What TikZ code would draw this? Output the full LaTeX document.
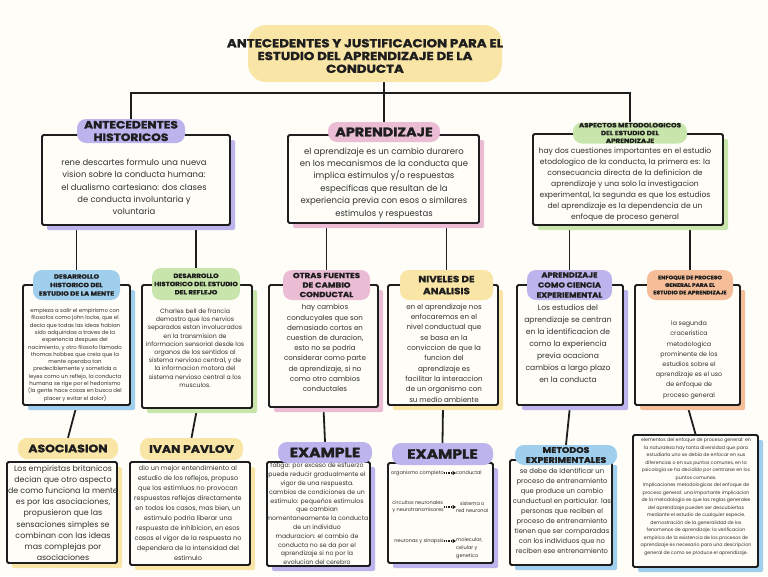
\documentclass[tikz,border=0pt]{standalone}
\usepackage{fontspec}
\setmainfont{Poppins}
\newfontfamily\headfont{Poppins}[BoldFeatures={FakeBold=1.6, FakeStretch=1.15}]
\usetikzlibrary{shadows,backgrounds,arrows.meta}
\definecolor{bg}{HTML}{FEFDF8}
\definecolor{ink}{HTML}{1E1E1E}
\definecolor{yel}{HTML}{F9E5A5}
\definecolor{purp}{HTML}{BDB4EE}
\definecolor{pink}{HTML}{EBBDD4}
\definecolor{grn}{HTML}{C8E6AC}
\definecolor{blu}{HTML}{A0CFEE}
\definecolor{orng}{HTML}{F5BE98}
\newcommand\fs[2]{\fontsize{#1}{#2}\selectfont}
\begin{document}
\begin{tikzpicture}[x=1pt,y=-1pt,
  box/.style={draw=ink, line width=1.8pt, fill=bg, rounded corners=1.5pt, inner sep=0pt,
    drop shadow={shadow xshift=5pt, shadow yshift=-5pt, fill=#1, opacity=1}},
  lab/.style={fill=#1, rounded corners=9pt, inner sep=0pt, align=center, text=ink},
  txt/.style={align=center, inner sep=0pt, text=ink!92},
  conn/.style={draw=ink, line width=1.8pt},
  dotarr/.style={draw=ink, line width=1.2pt, dash pattern=on 1.2pt off 1pt, -{Triangle[length=3.5pt,width=4pt]}}
]
\useasboundingbox (0,0) rectangle (768,576);

% title
\node[fill=yel, rounded corners=18pt, minimum width=254pt, minimum height=57pt] (tblob) at (375,53.5) {};
\node[txt, text=ink, font=\headfont\bfseries\fs{11.6}{12.8}] (title) at (365,56) {ANTECEDENTES Y JUSTIFICACION PARA EL\\ESTUDIO DEL APRENDIZAJE DE LA\\CONDUCTA};

% top boxes
\node[box=purp, minimum width=188pt, minimum height=90pt] (b1) at (136,180) {};
\node[box=pink, minimum width=191pt, minimum height=88pt] (b2) at (383.5,179) {};
\node[box=grn, minimum width=190pt, minimum height=91pt] (b3) at (628,179.5) {};

\node[lab=purp, minimum width=108pt, minimum height=24pt, font=\headfont\bfseries\fs{10.6}{12.5}] (l1) at (131,131) {ANTECEDENTES\\HISTORICOS};
\node[lab=pink, minimum width=112pt, minimum height=20pt, font=\headfont\bfseries\fs{12.5}{13}] (l2) at (384,132) {APRENDIZAJE};
\node[lab=grn, minimum width=114pt, minimum height=21pt, font=\headfont\bfseries\fs{6.2}{7.8}] (l3) at (630,133) {ASPECTOS METODOLOGICOS\\DEL ESTUDIO DEL\\APRENDIZAJE};

\node[txt, font=\fs{8.4}{12.2}] (t1) at (134,187) {rene descartes formulo una nueva\\vision sobre la conducta humana:\\el dualismo cartesiano: dos clases\\de conducta involuntaria y\\voluntaria};
\node[txt, font=\fs{8.5}{12.4}] (t2) at (384,183) {el aprendizaje es un cambio durarero\\en los mecanismos de la conducta que\\implica estimulos y/o respuestas\\especificas que resultan de la\\experiencia previa con esos o similares\\estimulos y respuestas};
\node[txt, font=\fs{7.6}{11}] (t3) at (625,185) {hay dos cuestiones importantes en el estudio\\etodologico de la conducta, la primera es: la\\consecuancia directa de la definicion de\\aprendizaje y una solo la investigacion\\experimental, la segunda es que los estudios\\del aprendizaje es la dependencia de un\\enfoque de proceso general};

% middle boxes
\node[box=blu, minimum width=107pt, minimum height=120pt] (m1) at (76.5,345) {};
\node[box=grn, minimum width=110pt, minimum height=123pt] (m2) at (197,346.5) {};
\node[box=pink, minimum width=109pt, minimum height=122pt] (m3) at (323.5,346) {};
\node[box=yel, minimum width=110pt, minimum height=120pt] (m4) at (443,345) {};
\node[box=purp, minimum width=106pt, minimum height=120pt] (m5) at (570,345) {};
\node[box=orng, minimum width=105pt, minimum height=120pt] (m6) at (687.5,345) {};

\node[lab=blu, minimum width=87pt, minimum height=30pt, font=\headfont\bfseries\fs{6.1}{8.5}] (m1l) at (76.5,285) {DESARROLLO\\HISTORICO DEL\\ESTUDIO DE LA MENTE};
\node[lab=grn, minimum width=88pt, minimum height=32pt, font=\headfont\bfseries\fs{6.1}{8.2}] (m2l) at (196,284) {DESARROLLO\\HISTORICO DEL ESTUDIO\\DEL REFLEJO};
\node[lab=pink, minimum width=87pt, minimum height=30pt, font=\headfont\bfseries\fs{7.4}{9.5}] (m3l) at (326.5,285) {OTRAS FUENTES\\DE CAMBIO\\CONDUCTAL};
\node[lab=yel, minimum width=93pt, minimum height=30pt, font=\headfont\bfseries\fs{9}{12}] (m4l) at (446.5,285) {NIVELES DE\\ANALISIS};
\node[lab=purp, minimum width=85pt, minimum height=30pt, font=\headfont\bfseries\fs{7.2}{10}] (m5l) at (569.5,285) {APRENDIZAJE\\COMO CIENCIA\\EXPERIEMENTAL};
\node[lab=orng, minimum width=86pt, minimum height=30pt, font=\headfont\bfseries\fs{5}{7.5}] (m6l) at (690,285) {ENFOQUE DE PROCESO\\GENERAL PARA EL\\ESTUDIO DE APRENDIZAJE};

\node[txt, font=\fs{5.4}{7.3}] (mt1) at (75,355) {empieza a salir el empirismo con\\filosofos como john locke, que el\\decia que todas las ideas habian\\sido adquiridas a traves de la\\experiencia despues del\\nacimiento, y otro filosofo llamado\\thomas hobbes que creia que la\\mente operaba tan\\predeciblemente y sometida a\\leyes como un reflejo, la conducta\\humana se rige por el hedonismo\\(la gente hace cosas en busca del\\placer y evitar el dolor)};
\node[txt, font=\fs{6.2}{8.2}] (mt2) at (195,348) {Charles bell de francia\\demostro que los nervios\\separados estan involucrados\\en la transmision de\\informacion sensorial desde los\\organos de los sentidos al\\sistema nervioso central, y de\\la informacion motora del\\sistema nervioso central a los\\musculos.};
\node[txt, font=\fs{7.1}{10.2}] (mt3) at (325,348) {hay cambios\\conducyales que son\\demasiado cortos en\\cuestion de duracion,\\esto no se podria\\considerar como parte\\de aprendizaje, si no\\como otro cambios\\conductales};
\node[txt, font=\fs{7.1}{10.3}] (mt4) at (444,353) {en el aprendizaje nos\\enfocaremos en el\\nivel conductual que\\se basa en la\\conviccion de que la\\funcion del\\aprendizaje es\\facilitar la interaccion\\de un organismo con\\su medio ambiente};
\node[txt, font=\fs{7.6}{12}] (mt5) at (568,344) {Los estudios del\\aprendizaje se centran\\en la identificacion de\\como la experiencia\\previa ocaciona\\cambios a largo plazo\\en la conducta};
\node[txt, font=\fs{6.3}{10.2}] (mt6) at (689,360) {la segunda\\craceristica\\metodologica\\prominente de los\\estudios sobre el\\aprendizaje es el uso\\de enfoque de\\proceso general};

% bottom boxes
\node[box=yel, minimum width=110pt, minimum height=101pt] (n1) at (62,512.5) {};
\node[box=yel, minimum width=120pt, minimum height=103pt] (n2) at (190,513.5) {};
\node[box=purp, minimum width=103pt, minimum height=104pt] (n3) at (318.5,514) {};
\node[box=purp, minimum width=105pt, minimum height=100pt] (n4) at (440.5,513) {};
\node[box=blu, minimum width=102pt, minimum height=105pt] (n5) at (561,512.5) {};
\node[box=blu, minimum width=125pt, minimum height=132pt] (n6) at (695.5,501) {};

\node[lab=yel, minimum width=100pt, minimum height=21pt, font=\headfont\bfseries\fs{10.8}{12}] (n1l) at (68,448.5) {ASOCIASION};
\node[lab=yel, minimum width=103pt, minimum height=22pt, font=\headfont\bfseries\fs{10.8}{12}] (n2l) at (191.5,449) {IVAN PAVLOV};
\node[lab=purp, minimum width=94pt, minimum height=21pt, font=\headfont\bfseries\fs{13.5}{14}] (n3l) at (325,452.5) {EXAMPLE};
\node[lab=purp, minimum width=101pt, minimum height=22pt, font=\headfont\bfseries\fs{13.5}{14}] (n4l) at (442.5,454) {EXAMPLE};
\node[lab=blu, minimum width=102pt, minimum height=20pt, font=\headfont\bfseries\fs{8.2}{10}] (n5l) at (566,455) {METODOS\\EXPERIMENTALES};

\node[txt, font=\fs{7.9}{11.2}] (nt1) at (63,513) {Los empiristas britanicos\\decian que otro aspecto\\de como funciona la mente\\es por las asociaciones,\\propusieron que las\\sensaciones simples se\\combinan con las ideas\\mas complejas por\\asociaciones};
\node[txt, font=\fs{6.5}{10}] (nt2) at (188,513) {dio un mejor entendimiento al\\estudio de los reflejos, propuso\\que los estimluos no provocan\\respuestas reflejas directamente\\en todos los casos, mas bien, un\\estimulo podria liberar una\\respuesta de inhibicion, en esos\\casos el vigor de la respuesta no\\dependera de la intensidad del\\estimulo};
\node[txt, font=\fs{6.2}{8.8}] (nt3) at (317,514) {fatiga: por exceso de esfuerzo\\puede reducir gradualmente el\\vigor de una respuesta.\\cambios de condiciones de un\\estimulo: pequeños estimulos\\que cambian\\momentaneamente la conducta\\de un individuo\\maduracion: el cambio de\\conducta no se da por el\\aprendizaje si no por la\\evolucion del cerebro};
\node[txt, font=\fs{6.8}{10}] (nt5) at (562,511) {se debe de identificar un\\proceso de entrenamiento\\que produce un cambio\\cunductual en particular. las\\personas que reciben el\\proceso de entrenamiento\\tienen que ser comparadas\\con los individuos que no\\reciben ese entrenamiento};
\node[txt, font=\fs{4.7}{7.5}] (nt6) at (696,497) {elementos del enfoque de proceso general: en\\la naturaleza hay tanta diversidad que para\\estudiarla uno se debia de enfocar en sus\\diferencias o en sus puntos comunes, en la\\psicologia se ha decidido por centrarse en los\\puntos comunes.\\implicaciones metodologicas del enfoque de\\proceso general: una importante implicacion\\de la metodologia es que las reglas generales\\del aprendizaje pueden ser descubiertas\\mediante el estudio de cualquier especie.\\demostración de la generalidad de los\\fenomenos de aprendizaje: la verificacion\\empirica de la existencia de los procesos de\\aprendizaje es necesario para una descripcion\\general de como se produce el aprendizaje.};

% example rows
\node[txt, anchor=east, font=\fs{5}{7}] (r1a) at (444,473) {organismo completo};
\node[txt, anchor=west, font=\fs{5}{7}] (r1b) at (456,473) {conductal};
\node[txt, anchor=east, align=left, font=\fs{5}{7}] (r2a) at (444,507) {circuitos neuronales\\y neurotransmisores};
\node[txt, anchor=west, font=\fs{5}{7}] (r2b) at (456,507) {sistema o\\red neuronal};
\node[txt, anchor=east, font=\fs{5}{7}] (r3a) at (444,541) {neuronas y sinapsis};
\node[txt, anchor=north west, align=left, font=\fs{5}{8}] (r3b) at (456,537.5) {molecular,\\celular y\\genetico};
\draw[dotarr] (r1a.east) -- (r1b.west);
\draw[dotarr] (r2a.east) -- (r2b.west);
\draw[dotarr] (r3a.east) -- (r3a.east -| r3b.west);

% connectors
\begin{scope}[on background layer]
\fill[bg] (0,0) rectangle (768,576);
\coordinate (bus) at (384,93);
\draw[conn] (tblob.south -| l2.north) -- (l2.north);
\draw[conn] (l1.north) |- (bus) -| (l3.north);
\draw[conn] (b1.south -| m1l.north) -- (m1l.north);
\draw[conn] (b1.south -| m2l.north) -- (m2l.north);
\draw[conn] (b2.south -| m3l.north) -- (m3l.north);
\draw[conn] (b2.south -| m4l.north) -- (m4l.north);
\draw[conn] (b3.south -| m5l.north) -- (m5l.north);
\draw[conn] (b3.south -| m6l.north) -- (m6l.north);
\draw[conn] (m1.south) -- (n1l.north);
\draw[conn] (m2.south) -- (n2l.north);
\draw[conn] (m3.south) -- (n3l.north);
\draw[conn] (m4.south) -- (n4l.north);
\draw[conn] (m5.south) -- (n5l.north);
\draw[conn] (m6.south) -- (n6.north);
\end{scope}
\end{tikzpicture}
\end{document}
